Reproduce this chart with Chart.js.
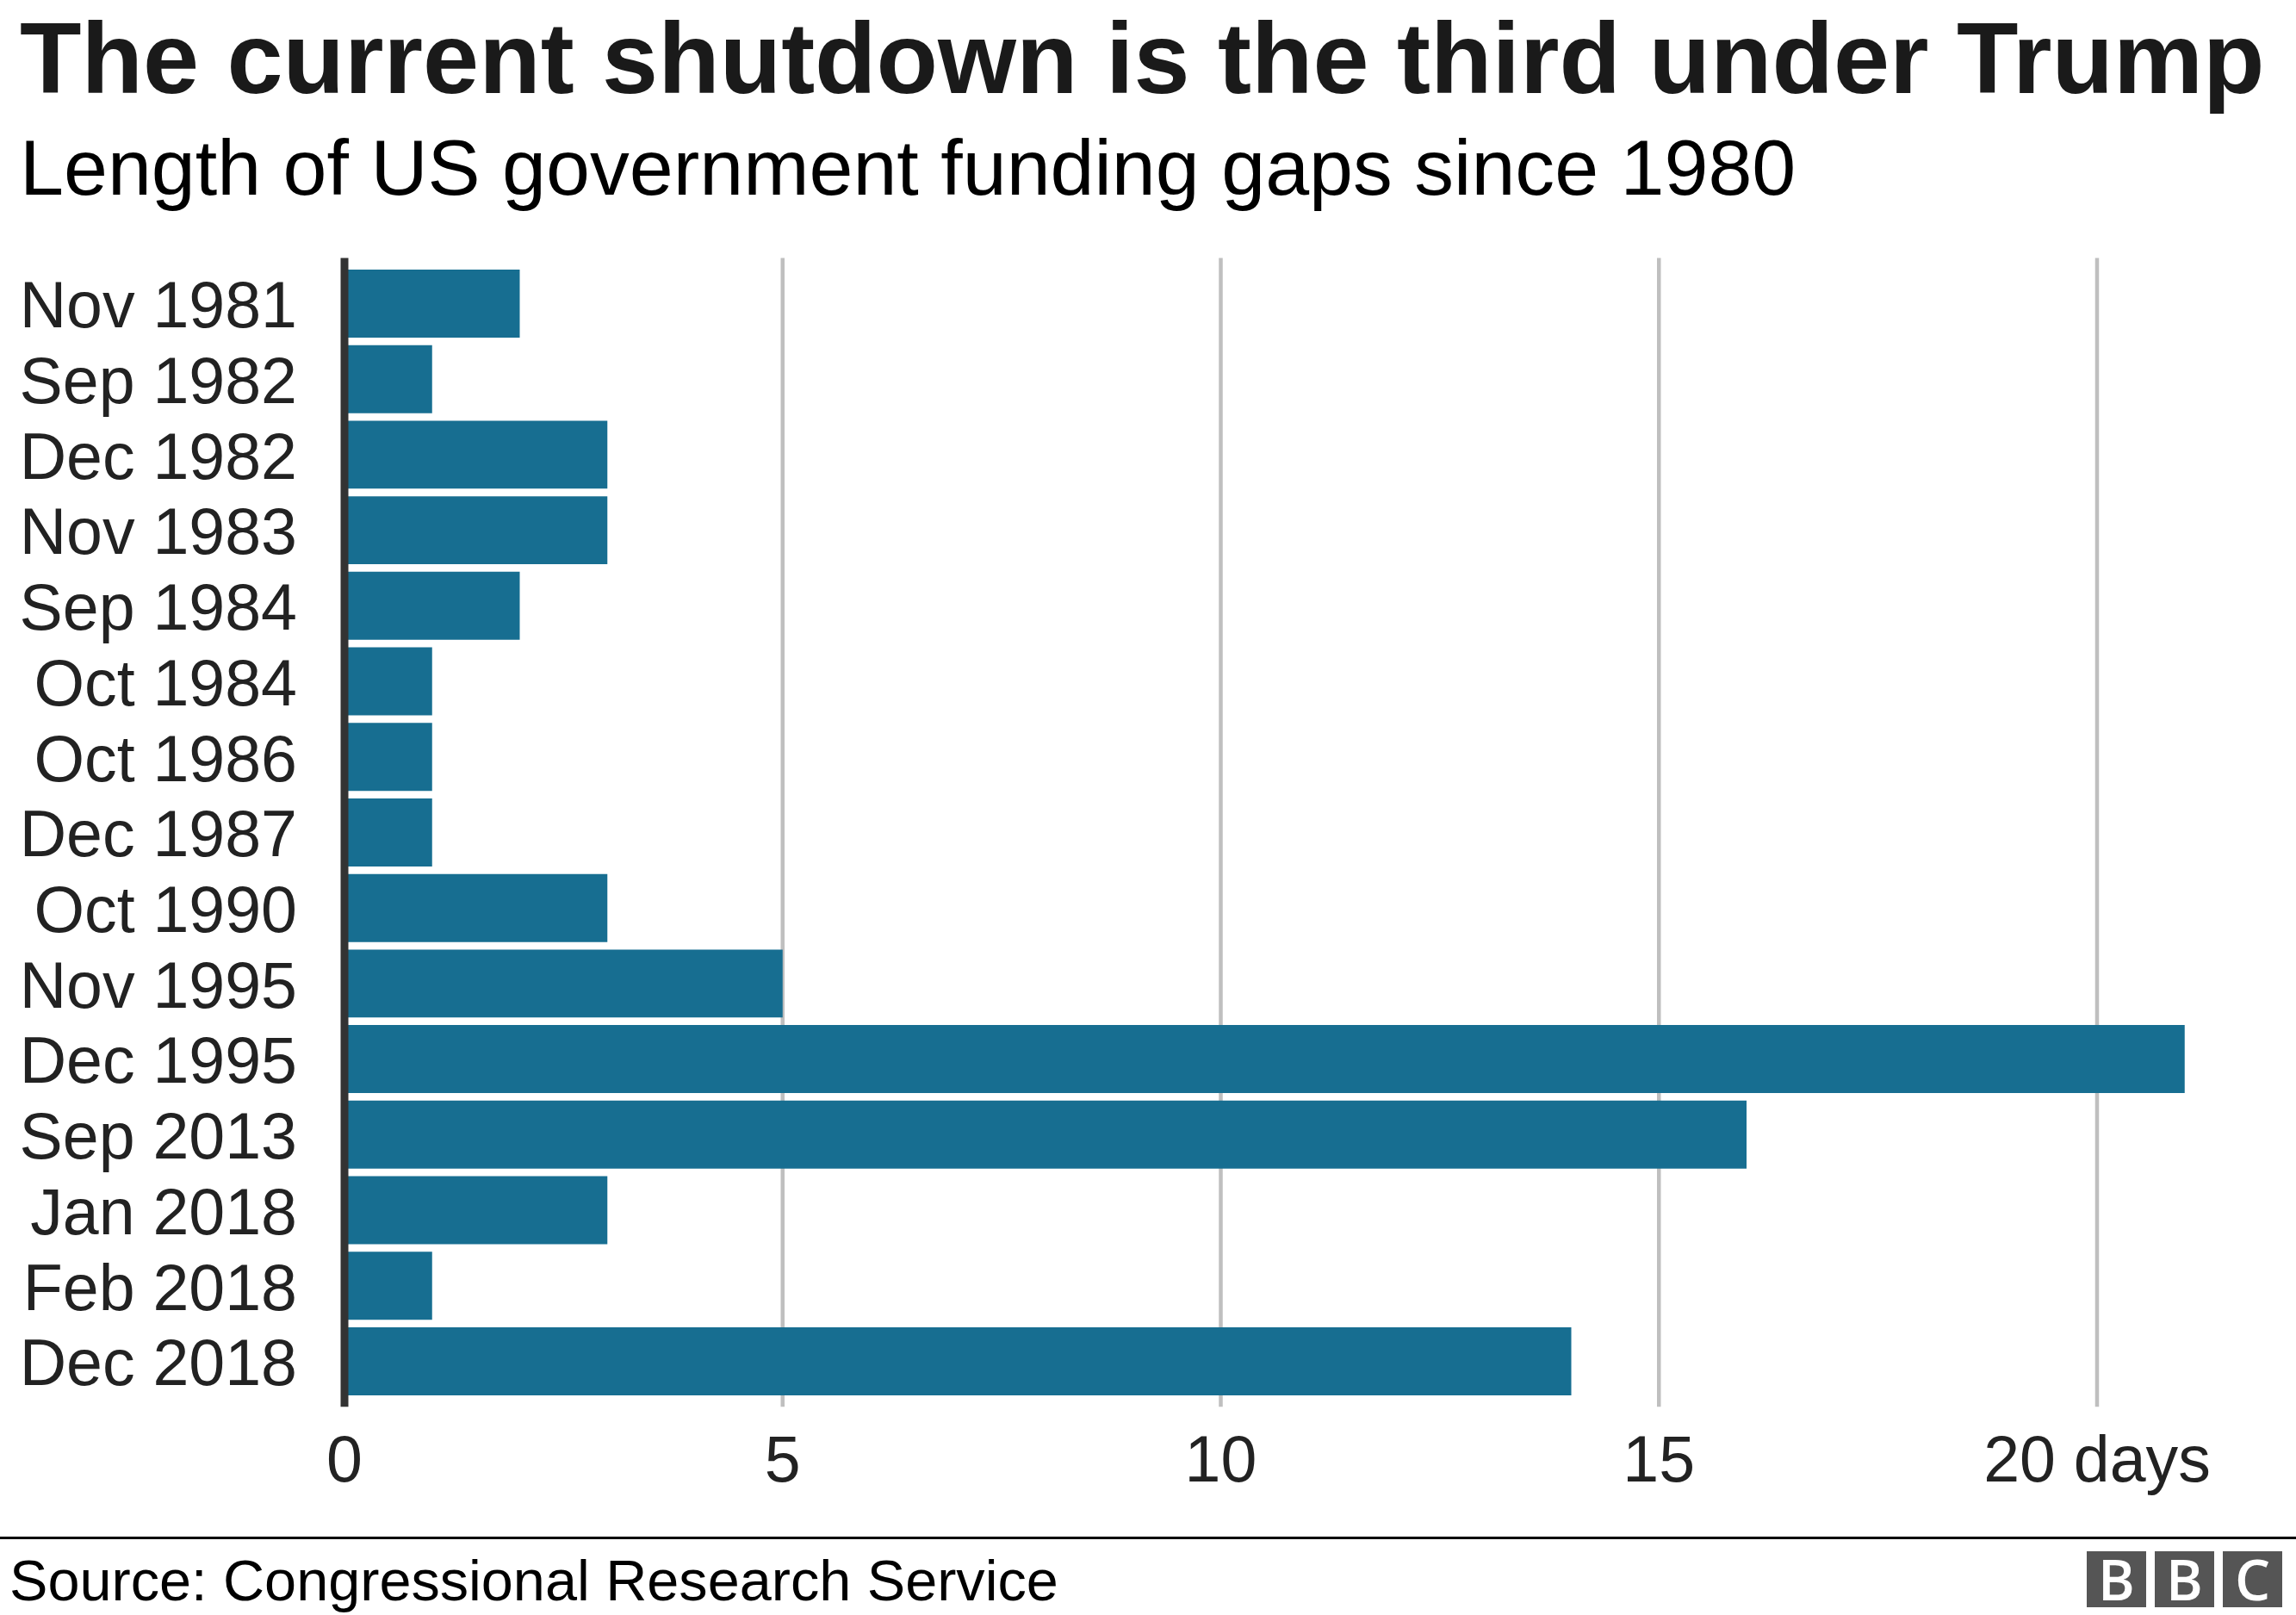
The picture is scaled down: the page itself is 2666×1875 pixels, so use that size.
<!DOCTYPE html>
<html><head><meta charset="utf-8">
<script src="https://cdn.jsdelivr.net/npm/chart.js@4"></script>
<style>
html,body{margin:0;padding:0;background:#fff;width:2666px;height:1875px;overflow:hidden}
#wrap{position:relative;width:2666px;height:1875px}
canvas{position:absolute;left:0;top:0}
.t{position:absolute;white-space:nowrap;font-family:"Liberation Sans",Arial,sans-serif;line-height:1;margin:0}
#title{left:23px;top:9px;font-size:117px;font-weight:700;color:#1a1a1a}
#sub{left:23px;top:149px;font-size:91.6px;color:#000}
#rule{position:absolute;left:0;top:1784px;width:2666px;height:3px;background:#000}
#src{left:11px;top:1802px;font-size:66.6px;color:#000}
.bb{position:absolute;top:1801px;width:69px;height:65px;background:#555;color:#fff;font:600 65px/65px "Open Sans",sans-serif;text-align:center}
</style></head><body>
<div id="wrap">
<canvas id="c" width="2666" height="1875"></canvas>
<h1 class="t" id="title">The current shutdown is the third under Trump</h1>
<p class="t" id="sub">Length of US government funding gaps since 1980</p>
<div id="rule"></div>
<p class="t" id="src">Source: Congressional Research Service</p>
<div class="bb" style="left:2423px">B</div>
<div class="bb" style="left:2502px">B</div>
<div class="bb" style="left:2581px">C</div>
</div>
<script>
const categories = ["Nov 1981","Sep 1982","Dec 1982","Nov 1983","Sep 1984","Oct 1984","Oct 1986","Dec 1987","Oct 1990","Nov 1995","Dec 1995","Sep 2013","Jan 2018","Feb 2018","Dec 2018"];
const days = [2,1,3,3,2,1,1,1,3,5,21,16,3,1,14];
const xMin = 0, xMax = 22, xStep = 5;
const unitLabel = " days";
const lastTick = 20;

const TEXT = "#222222";
const fullLines = {
  id: "fullLines",
  beforeDatasetsDraw(chart) {
    const {ctx, chartArea:a, scales:{x}} = chart;
    ctx.save();
    ctx.strokeStyle = "#bfbfbf"; ctx.lineWidth = 4.5;
    x.ticks.forEach((t,i) => {
      if (t.value === 0) return;
      const p = x.getPixelForTick(i);
      ctx.beginPath(); ctx.moveTo(p, a.top - 9); ctx.lineTo(p, a.bottom + 9); ctx.stroke();
    });
    ctx.restore();
  },
  afterDatasetsDraw(chart) {
    const {ctx, chartArea:a, scales:{x}} = chart;
    ctx.save();
    ctx.strokeStyle = "#333333"; ctx.lineWidth = 9;
    const p = x.getPixelForValue(0);
    ctx.beginPath(); ctx.moveTo(p, a.top - 9); ctx.lineTo(p, a.bottom + 9); ctx.stroke();
    ctx.restore();
  }
};

new Chart(document.getElementById("c"), {
  type: "bar",
  data: { labels: categories, datasets: [{ data: days, backgroundColor: "#176e91", borderWidth: 0, barPercentage: 0.9, categoryPercentage: 1 }] },
  plugins: [fullLines],
  options: {
    indexAxis: "y", responsive: false, animation: false, devicePixelRatio: 1,
    layout: { padding: { left: 0, top: 308.6, right: 27.5, bottom: 0 } },
    plugins: { legend: {display:false}, title: {display:false}, tooltip: {enabled:false} },
    scales: {
      y: {
        grid: {display:false, drawTicks:false}, border: {display:false},
        beforeUpdate(s){
          const base = Object.getPrototypeOf(s)._computeLabelItems;
          s._computeLabelItems = function(a){
            const items = base.call(this, a);
            items.forEach(it => { it.textOffset += 7; });
            return items;
          };
        },
        afterFit(s){ s.width = 400; },
        ticks: { color: TEXT, autoSkip:false, padding: 55, font: {family:"Liberation Sans", size:75.3} }
      },
      x: {
        min: xMin, max: xMax,
        grid: {display:false, drawTicks:false}, border: {display:false},
        afterFit(s){ s.height = 250.7; },
        ticks: { stepSize: xStep, includeBounds:false, maxRotation:0, color: TEXT, padding: 30, font: {family:"Liberation Sans", size:75.3},
          callback: v => v === lastTick ? v + unitLabel : String(v) }
      }
    }
  }
});
</script>
</body></html>
